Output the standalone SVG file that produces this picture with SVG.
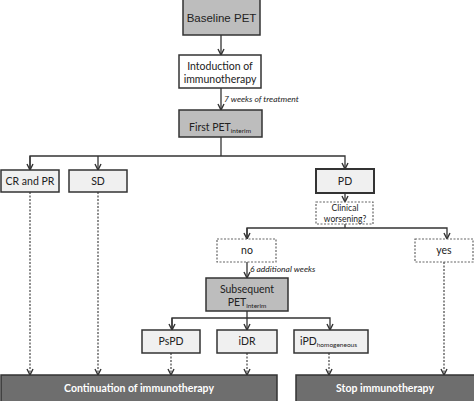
<svg xmlns="http://www.w3.org/2000/svg" width="474" height="401" viewBox="0 0 474 401">
<defs>
<marker id="ah" viewBox="0 0 8 8" refX="7" refY="4" markerWidth="8" markerHeight="8" markerUnits="userSpaceOnUse" orient="auto">
<path d="M1,1 L7,4 L1,7" fill="none" stroke="#333" stroke-width="1.4"/>
</marker>
<style>
.box{stroke:#333;stroke-width:1.5}
.dk{fill:#bdbdbd}
.lt{fill:#f0f0f0}
.wh{fill:#fff}
.dash{fill:#fff;stroke:#666;stroke-width:1.2;stroke-dasharray:2,1.5}
.end{fill:#6e6e6e;stroke:#333;stroke-width:1.5}
text{font-family:Lato,"Open Sans","Liberation Sans",sans-serif;fill:#222;text-anchor:middle}
.t10{font-size:10.5px}
.t8{font-size:8.5px}
.lab{font-size:8.5px;font-style:italic;text-anchor:start}
.bw{font-size:10.5px;font-weight:bold;fill:#fff}
.ln{fill:none;stroke:#333;stroke-width:1.3}
.dl{fill:none;stroke:#444;stroke-width:1.2;stroke-dasharray:2,1.5}
</style>
</defs>
<g id="connectors">
<line class="ln" x1="221" y1="35" x2="221" y2="55" marker-end="url(#ah)"/>
<line class="ln" x1="221" y1="88" x2="221" y2="110" marker-end="url(#ah)"/>
<polyline class="ln" points="221,137 221,156"/>
<polyline class="ln" points="30,169.5 30,156 345,156 345,169" marker-end="url(#ah)"/>
<line class="ln" x1="30" y1="156" x2="30" y2="170" marker-end="url(#ah)"/>
<line class="ln" x1="98" y1="156" x2="98" y2="170" marker-end="url(#ah)"/>
<line class="ln" x1="345" y1="193" x2="345" y2="202" marker-end="url(#ah)"/>
<polyline class="ln" points="345,224 345,228"/>
<polyline class="ln" points="247,239 247,228 447,228 447,239" marker-end="url(#ah)"/>
<line class="ln" x1="247" y1="228" x2="247" y2="239" marker-end="url(#ah)"/>
<line class="ln" x1="247" y1="262" x2="247" y2="278" marker-end="url(#ah)"/>
<polyline class="ln" points="247,311 247,318"/>
<polyline class="ln" points="172,330 172,318 330,318 330,330" marker-end="url(#ah)"/>
<line class="ln" x1="172" y1="318" x2="172" y2="330" marker-end="url(#ah)"/>
<line class="ln" x1="247" y1="318" x2="247" y2="330" marker-end="url(#ah)"/>
<line class="dl" x1="30" y1="192" x2="30" y2="375" marker-end="url(#ah)"/>
<line class="dl" x1="98" y1="192" x2="98" y2="375" marker-end="url(#ah)"/>
<line class="dl" x1="171" y1="353" x2="171" y2="375" marker-end="url(#ah)"/>
<line class="dl" x1="247" y1="353" x2="247" y2="375" marker-end="url(#ah)"/>
<line class="dl" x1="329" y1="353" x2="329" y2="375" marker-end="url(#ah)"/>
<line class="dl" x1="444" y1="262" x2="444" y2="375" marker-end="url(#ah)"/>
<text class="lab" x="224" y="102">7 weeks of treatment</text>
<text class="lab" x="250" y="272">6 additional weeks</text>
</g>
<g id="baseline">
<rect class="box dk" x="183" y="-2" width="77" height="37"/>
<text x="221.5" y="22" style="font-family:'Liberation Sans',Arial,sans-serif;font-size:11.5px">Baseline PET</text>
</g>
<g id="intro">
<rect class="box wh" x="179" y="55" width="82" height="33"/>
<text class="t10" x="220" y="69.5">Intoduction of</text>
<text class="t10" x="220" y="83">immunotherapy</text>
</g>
<g id="first">
<rect class="box dk" x="179" y="110" width="83" height="27"/>
<text class="t10" x="220" y="131">First PET<tspan font-size="6.5" dy="2">interim</tspan></text>
</g>
<g id="crpr">
<rect class="box lt" x="1" y="170" width="58" height="22"/>
<text class="t10" x="30" y="185">CR and PR</text>
</g>
<g id="sd">
<rect class="box lt" x="69" y="170" width="58" height="22"/>
<text class="t10" x="98" y="185">SD</text>
</g>
<g id="pd">
<rect class="box lt" x="316" y="169" width="58" height="24" style="stroke-width:2"/>
<text class="t10" x="345" y="185">PD</text>
</g>
<g id="clinical">
<rect class="dash" x="316" y="202" width="57" height="22"/>
<text class="t8" x="345" y="211">Clinical</text>
<text class="t8" x="345" y="221.5">worsening?</text>
</g>
<g id="no">
<rect class="dash" x="217" y="239" width="59" height="23"/>
<text class="t10" x="247" y="254">no</text>
</g>
<g id="yes">
<rect class="dash" x="415" y="239" width="58" height="23"/>
<text class="t10" x="444" y="254">yes</text>
</g>
<g id="subsequent">
<rect class="box dk" x="206" y="278" width="82" height="33"/>
<text class="t10" x="247" y="293">Subsequent</text>
<text class="t10" x="247" y="306">PET<tspan font-size="6.5" dy="2">interim</tspan></text>
</g>
<g id="pspd">
<rect class="box lt" x="142" y="330" width="58" height="23"/>
<text class="t10" x="171" y="345">PsPD</text>
</g>
<g id="idr">
<rect class="box lt" x="217" y="330" width="60" height="23"/>
<text class="t10" x="247" y="345">iDR</text>
</g>
<g id="ipd">
<rect class="box lt" x="294" y="330" width="74" height="23"/>
<text class="t10" x="300" y="345" style="text-anchor:start">iPD<tspan font-size="6.5" dy="2">homogeneous</tspan></text>
</g>
<g id="continuation">
<rect class="end" x="1" y="375" width="276" height="27"/>
<text class="bw" x="139" y="392">Continuation of immunotherapy</text>
</g>
<g id="stop">
<rect class="end" x="296" y="375" width="179" height="27"/>
<text class="bw" x="385" y="392">Stop immunotherapy</text>
</g>
</svg>
